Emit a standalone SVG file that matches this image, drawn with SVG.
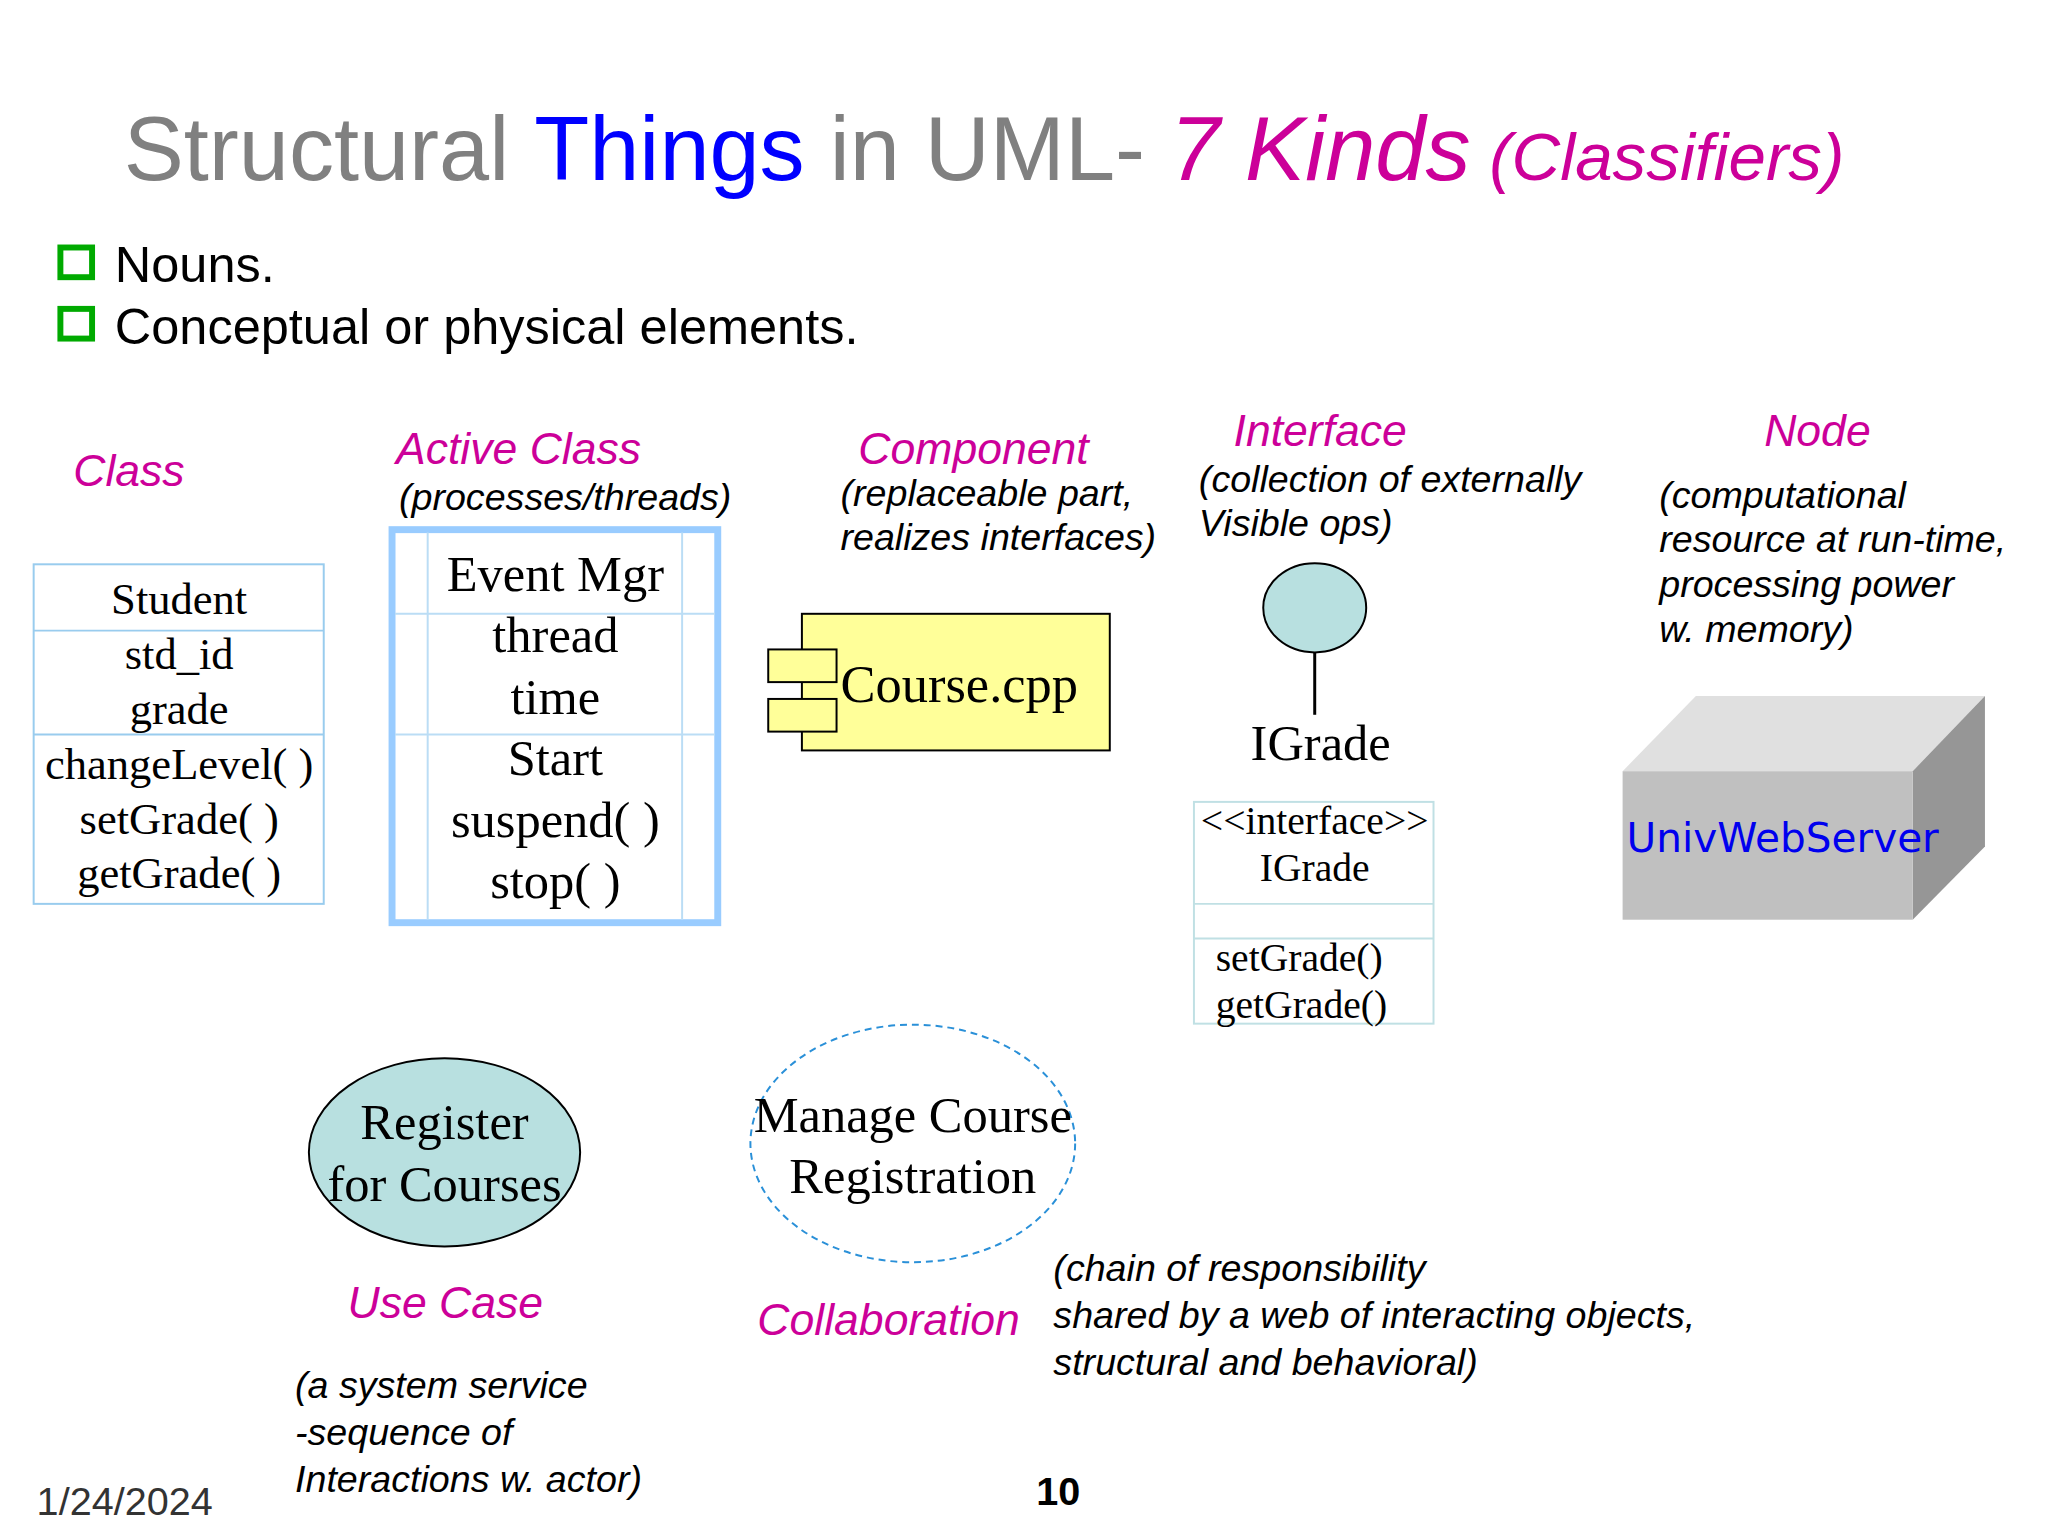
<svg xmlns="http://www.w3.org/2000/svg" width="2048" height="1536" viewBox="0 0 2048 1536">
<style>
.sans{font-family:"Liberation Sans",Arial,sans-serif}
.serif{font-family:"Liberation Serif","Times New Roman",serif;fill:#000}
.lab{font-family:"Liberation Sans",Arial,sans-serif;font-style:italic;fill:#cc0099;font-size:45px}
.desc{font-family:"Liberation Sans",Arial,sans-serif;font-style:italic;fill:#000;font-size:38px}
.box{fill:#fff;stroke:#99ccee;stroke-width:2}
</style>
<rect width="2048" height="1536" fill="#fff"/>
<g transform="scale(0.99)">
<text x="125" y="182" class="sans" font-size="91" fill="#808080">Structural <tspan fill="#0000ff">Things</tspan> in UML- <tspan fill="#cc0099" font-style="italic">7 Kinds</tspan><tspan fill="#cc0099" font-style="italic" font-size="68"> (Classifiers)</tspan></text>
<g id="bullets">
<rect x="61" y="250" width="32" height="30" fill="none" stroke="#00aa00" stroke-width="6"/>
<rect x="61" y="312" width="32" height="30" fill="none" stroke="#00aa00" stroke-width="6"/>
<text x="116" y="285" class="sans" font-size="51">Nouns.</text>
<text x="116" y="347" class="sans" font-size="51">Conceptual or physical elements.</text>
</g>
<text x="74" y="491" class="lab">Class</text>
<text x="400" y="469" class="lab">Active Class</text>
<text x="403" y="515" class="desc">(processes/threads)</text>
<text x="867" y="469" class="lab">Component</text>
<text x="849" y="511" class="desc">(replaceable part,</text>
<text x="849" y="556" class="desc">realizes interfaces)</text>
<text x="1246" y="451" class="lab">Interface</text>
<text x="1211" y="497" class="desc">(collection of externally</text>
<text x="1211" y="541" class="desc">Visible ops)</text>
<text x="1782" y="451" class="lab">Node</text>
<text class="desc"><tspan x="1676" y="513">(computational</tspan><tspan x="1676" y="558">resource at run-time,</tspan><tspan x="1676" y="603">processing power</tspan><tspan x="1676" y="648">w. memory)</tspan></text>
<g id="class">
<rect x="34" y="570" width="293" height="343" class="box"/>
<line x1="34" y1="637" x2="327" y2="637" stroke="#99ccee" stroke-width="2"/>
<line x1="34" y1="742" x2="327" y2="742" stroke="#99ccee" stroke-width="2"/>
<g class="serif" font-size="45" text-anchor="middle">
<text x="181" y="620">Student</text><text x="181" y="676">std_id</text><text x="181" y="731">grade</text>
<text x="181" y="787">changeLevel( )</text><text x="181" y="842">setGrade( )</text><text x="181" y="897">getGrade( )</text>
</g>
</g>
<g id="activeclass">
<rect x="396" y="535" width="329" height="397" fill="#fff" stroke="#99ccff" stroke-width="7"/>
<g stroke="#bbddf5" stroke-width="2">
<line x1="432" y1="538" x2="432" y2="929"/><line x1="689" y1="538" x2="689" y2="929"/>
<line x1="399" y1="620" x2="722" y2="620"/><line x1="399" y1="742" x2="722" y2="742"/>
</g>
<g class="serif" font-size="51" text-anchor="middle">
<text x="561" y="597">Event Mgr</text><text x="561" y="659">thread</text><text x="561" y="721">time</text>
<text x="561" y="783">Start</text><text x="561" y="845">suspend( )</text><text x="561" y="907">stop( )</text>
</g>
</g>
<g id="component">
<rect x="810" y="620" width="311" height="138" fill="#ffff99" stroke="#000" stroke-width="2"/>
<rect x="776" y="656" width="69" height="33" fill="#ffff99" stroke="#000" stroke-width="2"/>
<rect x="776" y="706" width="69" height="33" fill="#ffff99" stroke="#000" stroke-width="2"/>
<text x="849" y="709" class="serif" font-size="53">Course.cpp</text>
</g>
<g id="interface-lollipop">
<ellipse cx="1328" cy="614" rx="52" ry="45" fill="#b8e0e0" stroke="#000" stroke-width="2"/>
<line x1="1328" y1="659" x2="1328" y2="722" stroke="#000" stroke-width="3"/>
<text x="1334" y="768" class="serif" font-size="51" text-anchor="middle">IGrade</text>
</g>
<g id="interface-box">
<rect x="1206" y="810" width="242" height="224" fill="#fff" stroke="#c0e0e4" stroke-width="2"/>
<line x1="1206" y1="913" x2="1448" y2="913" stroke="#c0e0e4" stroke-width="2"/>
<line x1="1206" y1="948" x2="1448" y2="948" stroke="#c0e0e4" stroke-width="2"/>
<text x="1328" y="842" class="serif" font-size="40" text-anchor="middle">&lt;&lt;interface&gt;&gt;</text>
<text x="1328" y="890" class="serif" font-size="40" text-anchor="middle">IGrade</text>
<text x="1228" y="981" class="serif" font-size="40">setGrade()</text>
<text x="1228" y="1028" class="serif" font-size="40">getGrade()</text>
</g>
<g id="node">
<polygon points="1639,779 1713,703 2005,703 1932,779" fill="#e0e0e0"/>
<polygon points="1932,779 2005,703 2005,855 1932,929" fill="#969696"/>
<rect x="1639" y="779" width="293" height="150" fill="#c0c0c0"/>
<text x="1643" y="861" font-family="'DejaVu Sans',sans-serif" font-size="41" fill="#0000ee">UnivWebServer</text>
</g>
<g id="usecase">
<ellipse cx="449" cy="1164" rx="137" ry="95" fill="#b8e0e0" stroke="#000" stroke-width="2"/>
<text x="449" y="1151" class="serif" font-size="51" text-anchor="middle">Register</text>
<text x="449" y="1213" class="serif" font-size="51" text-anchor="middle">for Courses</text>
</g>
<text x="351" y="1331" class="lab">Use Case</text>
<text class="desc" font-size="39.5"><tspan x="298" y="1412">(a system service</tspan><tspan x="298" y="1460">-sequence of</tspan><tspan x="298" y="1507">Interactions w. actor)</tspan></text>
<g id="collaboration">
<ellipse cx="922" cy="1155" rx="164" ry="120" fill="none" stroke="#2a90d8" stroke-width="2" stroke-dasharray="7,5"/>
<text x="922" y="1143" class="serif" font-size="51" text-anchor="middle">Manage Course</text>
<text x="922" y="1205" class="serif" font-size="51" text-anchor="middle">Registration</text>
</g>
<text x="765" y="1349" class="lab">Collaboration</text>
<text class="desc" font-size="40"><tspan x="1064" y="1294">(chain of responsibility</tspan><tspan x="1064" y="1341">shared by a web of interacting objects,</tspan><tspan x="1064" y="1389">structural and behavioral)</tspan></text>
<text x="37" y="1530" class="sans" font-size="40" fill="#333">1/24/2024</text>
<text x="1069" y="1520" class="sans" font-size="40" font-weight="bold" text-anchor="middle">10</text>
</g>
<g id="connectors"/>
</svg>
